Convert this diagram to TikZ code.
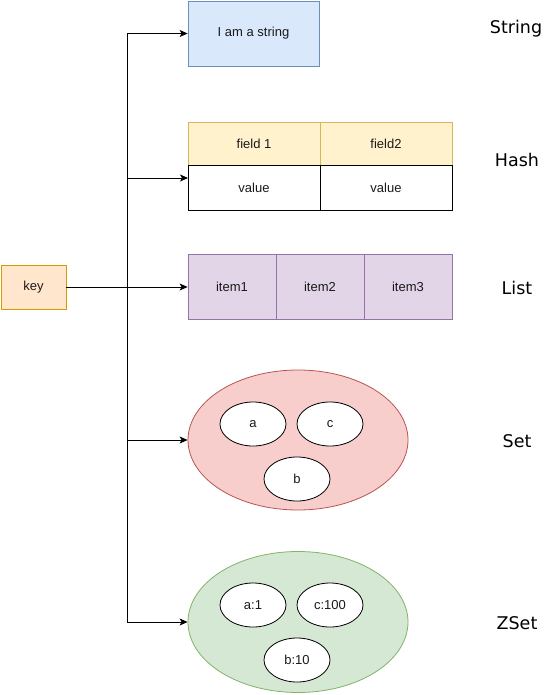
\documentclass[tikz,border=0pt]{standalone}
\usepackage{fontspec}
\setmainfont{Liberation Sans}
\newfontfamily\labelfont{DejaVu Sans}
\usetikzlibrary{arrows.meta,shapes.geometric}
\definecolor{strfill}{HTML}{DAE8FC}\definecolor{strdraw}{HTML}{6C8EBF}
\definecolor{yfill}{HTML}{FFF2CC}\definecolor{ydraw}{HTML}{D6B656}
\definecolor{pfill}{HTML}{E1D5E7}\definecolor{pdraw}{HTML}{9673A6}
\definecolor{ofill}{HTML}{FFE6CC}\definecolor{odraw}{HTML}{D79B00}
\definecolor{rfill}{HTML}{F8CECC}\definecolor{rdraw}{HTML}{B85450}
\definecolor{gfill}{HTML}{D5E8D4}\definecolor{gdraw}{HTML}{82B366}
\definecolor{txt}{HTML}{1A1A1A}
\begin{document}
\begin{tikzpicture}[x=1pt,y=-1pt,
  box/.style={rectangle, line width=0.8pt, inner sep=0pt, font=\fontsize{13}{15}\selectfont, text=txt},
  inell/.style={ellipse, draw=black, fill=white, line width=0.8pt, minimum width=66pt, minimum height=44pt, inner sep=0pt, font=\fontsize{13}{15}\selectfont, text=txt},
  bigell/.style={ellipse, line width=0.8pt, minimum width=220pt, minimum height=141pt, inner sep=0pt},
  typelabel/.style={font=\labelfont\fontsize{17.5}{20}\selectfont, text=black},
  conn/.style={draw=black, line width=0.8pt, -{Stealth[length=8pt,width=7pt,inset=2pt]}}
]
\useasboundingbox (0,0) rectangle (552,695);

% key
\node[box, draw=odraw, fill=ofill, minimum width=65pt, minimum height=44pt] (key) at (33.5,287) {key};

% String
\node[box, draw=strdraw, fill=strfill, minimum width=131pt, minimum height=65pt] (str) at (253.5,33.5) {I am a string};

% Hash
\node[box, draw=ydraw, fill=yfill, minimum width=132pt, minimum height=43pt] (f1) at (254,143.5) {field 1};
\node[box, draw=ydraw, fill=yfill, minimum width=132pt, minimum height=43pt] (f2) at (386,143.5) {field2};
\node[box, draw=black, fill=white, minimum width=132pt, minimum height=45pt] (v1) at (254,187.5) {value};
\node[box, draw=black, fill=white, minimum width=132pt, minimum height=45pt] (v2) at (386,187.5) {value};
\coordinate (hashin) at (188,178);

% List
\node[box, draw=pdraw, fill=pfill, minimum width=88pt, minimum height=65pt] (i1) at (232,287) {item1};
\node[box, draw=pdraw, fill=pfill, minimum width=88pt, minimum height=65pt] (i2) at (320,287) {item2};
\node[box, draw=pdraw, fill=pfill, minimum width=88pt, minimum height=65pt] (i3) at (408,287) {item3};

% Set
\node[bigell, draw=rdraw, fill=rfill, minimum height=140pt] (set) at (298,440) {};
\node[inell] (sa) at (253,424) {a};
\node[inell] (sc) at (330,424) {c};
\node[inell] (sb) at (297,479) {b};

% ZSet
\node[bigell, draw=gdraw, fill=gfill] (zset) at (298,622) {};
\node[inell] (za) at (253,605) {a:1};
\node[inell] (zc) at (330,605) {c:100};
\node[inell] (zb) at (297,660) {b:10};

% labels
\node[typelabel] (lstr) at (516,29) {String};
\node[typelabel] (lhash) at (517,160) {Hash};
\node[typelabel] (llist) at (517,288) {List};
\node[typelabel] (lset) at (517,441) {Set};
\node[typelabel] (lzset) at (517,623) {ZSet};

% connectors
\coordinate (tr) at (127,287);
\draw[conn] (key.east) -- (tr) |- (str.west);
\draw[conn] (key.east) -- (tr) |- (hashin);
\draw[conn] (key.east) -- (i1.west);
\draw[conn] (key.east) -- (tr) |- (set.west);
\draw[conn] (key.east) -- (tr) |- (zset.west);
\end{tikzpicture}
\end{document}
